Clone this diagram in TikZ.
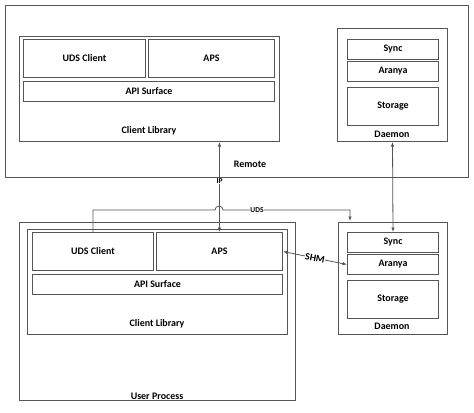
\documentclass[tikz,border=0pt]{standalone}
\usepackage{fontspec}
\setmainfont{Carlito}
\usetikzlibrary{arrows.meta}
\definecolor{ln}{HTML}{555555}
\tikzset{
  box/.style={draw=ln, line width=1bp, rectangle, anchor=north west, inner sep=0pt, font=\bfseries\fontsize{10}{12}\selectfont},
  lbl/.style={font=\bfseries\fontsize{10}{12}\selectfont, inner sep=1pt},
  small/.style={font=\bfseries\fontsize{7.5}{8}\selectfont, inner sep=0.5pt, fill=white},
  conn/.style={draw=ln, line width=0.8bp},
  arr/.style={conn, {Latex[length=4.5bp,width=3.5bp]}-{Latex[length=4.5bp,width=3.5bp]}},
  arrend/.style={conn, -{Latex[length=4.5bp,width=3.5bp]}}
}
\begin{document}
\begin{tikzpicture}[x=1bp,y=-1bp]
\useasboundingbox (0,0) rectangle (474,412);
% Remote
\node[box, minimum width=463bp, minimum height=172bp] (remote) at (5,5) {};
\node[lbl] (remoteL) at (250,164) {Remote};
% top client library
\node[box, minimum width=260bp, minimum height=105bp] (libT) at (19,36) {};
\node[box, minimum width=122bp, minimum height=38bp] (udsT) at (23,39) {UDS Client};
\node[box, minimum width=126bp, minimum height=38bp] (apsT) at (148,39) {APS};
\node[box, minimum width=251bp, minimum height=20bp] (apiT) at (23,81) {API Surface};
\node[lbl] (libTL) at (149,131) {Client Library};
% top daemon
\node[box, minimum width=110bp, minimum height=113bp] (daeT) at (337,28) {};
\node[box, minimum width=91bp, minimum height=20bp] (syncT) at (347,39) {Sync};
\node[box, minimum width=91bp, minimum height=20bp] (araT) at (347,61) {Aranya};
\node[box, minimum width=91bp, minimum height=38bp] (stoT) at (347,87) {Storage};
\node[lbl] (daeTL) at (392,134) {Daemon};
% User process
\node[box, minimum width=276bp, minimum height=178bp] (user) at (19,222) {};
\node[lbl, anchor=south] (userL) at (157,401) {User Process};
\node[box, minimum width=260bp, minimum height=105bp] (libB) at (27,229) {};
\node[box, minimum width=121bp, minimum height=38bp] (udsB) at (32,232) {UDS Client};
\node[box, minimum width=126bp, minimum height=38bp] (apsB) at (156,232) {APS};
\node[box, minimum width=250bp, minimum height=20bp] (apiB) at (32,274) {API Surface};
\node[lbl] (libBL) at (157,324) {Client Library};
% bottom daemon
\node[box, minimum width=109bp, minimum height=112bp] (daeB) at (338,222) {};
\node[box, minimum width=91bp, minimum height=20bp] (syncB) at (347,232) {Sync};
\node[box, minimum width=91bp, minimum height=20bp] (araB) at (347,254) {Aranya};
\node[box, minimum width=91bp, minimum height=38bp] (stoB) at (347,280) {Storage};
\node[lbl] (daeBL) at (392,326) {Daemon};
% connectors
\draw[arr] (apsB.north) -- (apsB.north |- libT.south)
  node[small, pos=0.57] (ipL) {IP};
\draw[arr] (daeT.south) -- (syncB.north);
\draw[arr] (apsB.east) -- (araB.west)
  node[lbl, midway, sloped, fill=white, inner sep=0.5pt] (shmL) {SHM};
\coordinate (udsTurn) at (udsB.north |- 0,210);
\coordinate (hopA) at (215,210);
\coordinate (hopB) at (223,210);
\coordinate (udsEnd) at (350,210);
\coordinate (udsTip) at (350,221);
\draw[arrend] (udsB.north) -- (udsTurn) -- (hopA) arc[start angle=180, end angle=0, radius=4bp] -- (udsEnd) -- (udsTip);
\node[small] (udsL) at (257,210) {UDS};
\end{tikzpicture}
\end{document}
